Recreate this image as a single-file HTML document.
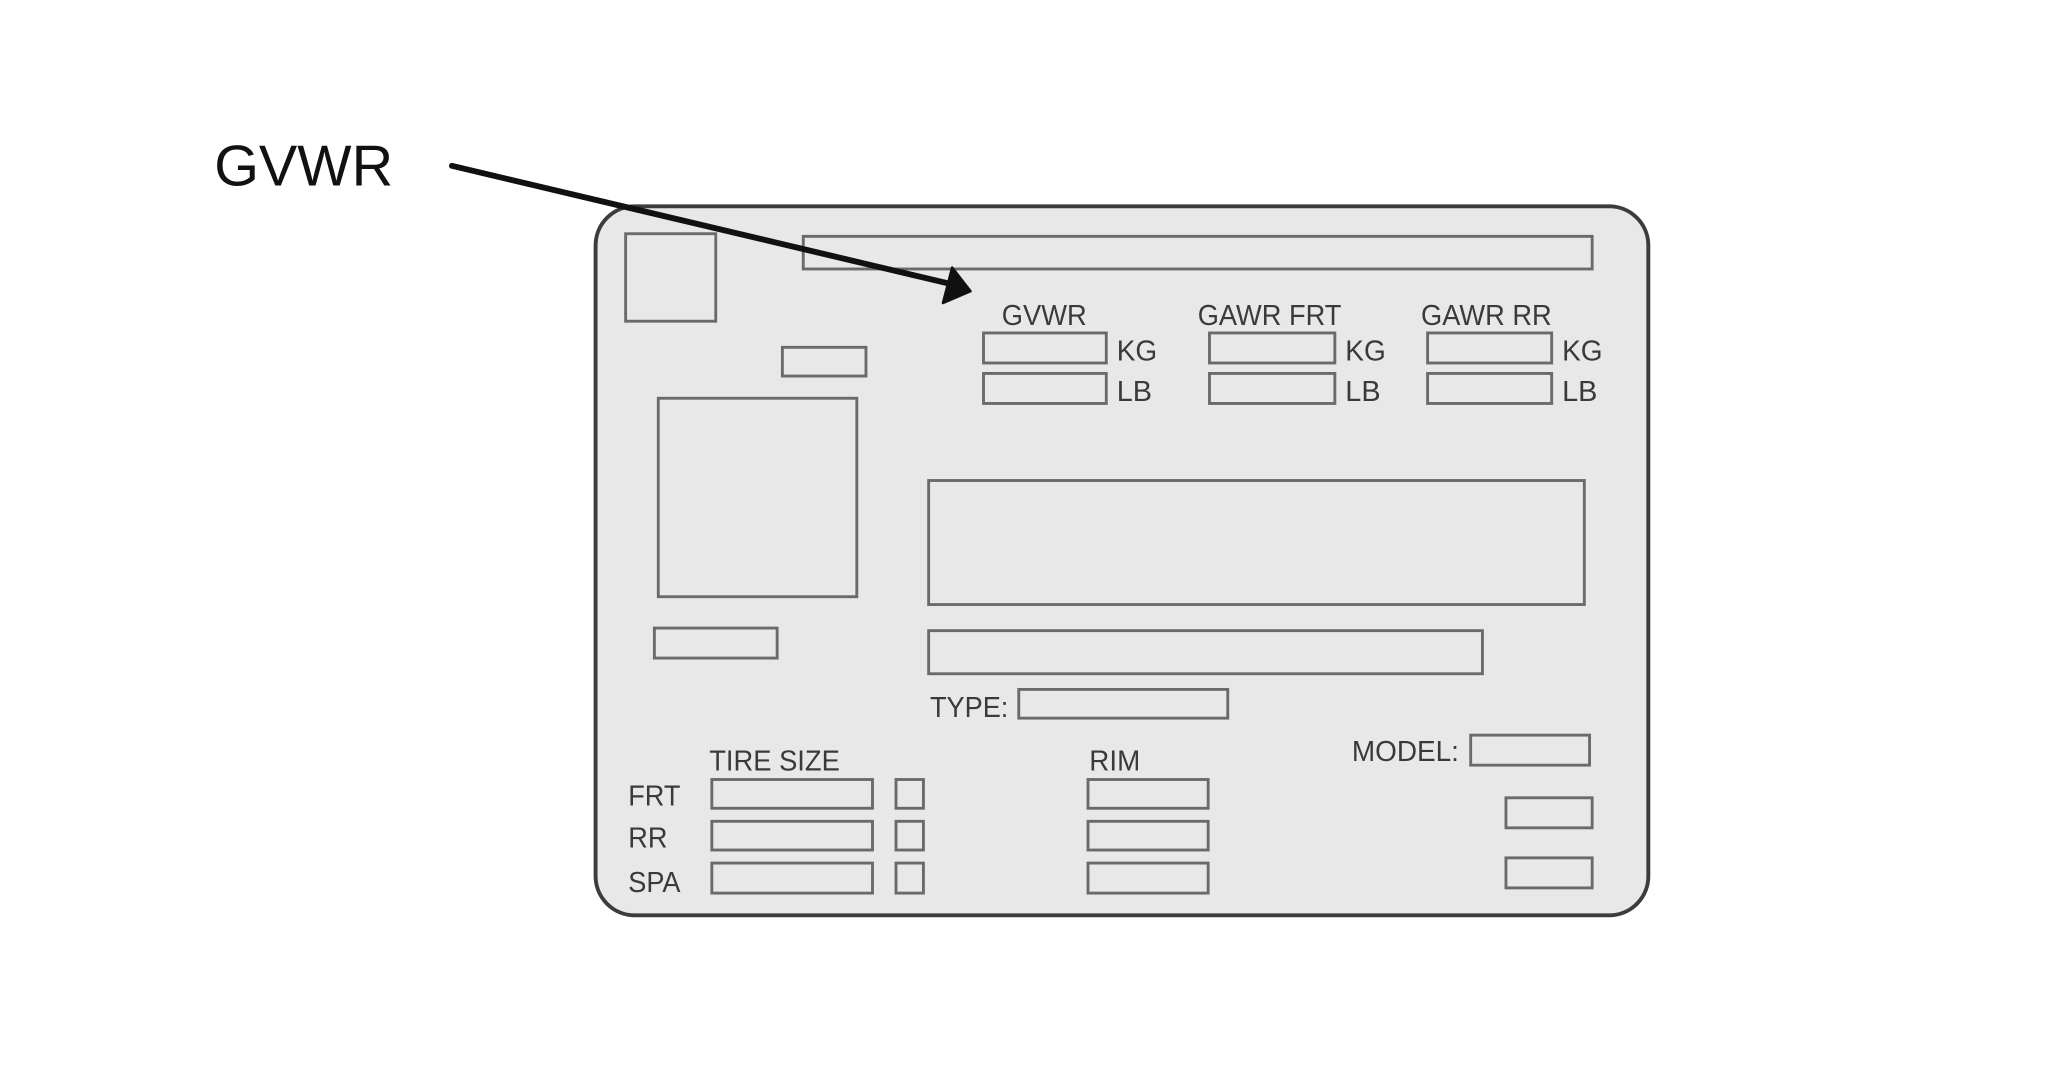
<!DOCTYPE html>
<html><head><meta charset="utf-8"><style>
html,body{margin:0;padding:0;background:#fff;width:2048px;height:1072px;overflow:hidden}
svg{display:block}
text{font-family:"Liberation Sans",sans-serif;fill:#3a3a3a}
.b{fill:none;stroke:#6a6a6a;stroke-width:2.2}
.s{font-size:22px}
</style></head><body>
<svg width="2048" height="1072" viewBox="0 0 1568 821" preserveAspectRatio="none">
<rect x="456" y="158" width="806" height="543" rx="30" ry="30" fill="#e8e8e8" stroke="#3c3c3c" stroke-width="3"/>
<rect class="b" x="479" y="179" width="69" height="67"/>
<rect class="b" x="615" y="181" width="604" height="25"/>
<rect class="b" x="599" y="266" width="64" height="22"/>
<rect class="b" x="504" y="305" width="152" height="152"/>
<rect class="b" x="501" y="481" width="94" height="23"/>
<text class="s" x="767" y="249" textLength="65" lengthAdjust="spacingAndGlyphs">GVWR</text>
<text class="s" x="917" y="249" textLength="110" lengthAdjust="spacingAndGlyphs">GAWR FRT</text>
<text class="s" x="1088" y="249" textLength="100" lengthAdjust="spacingAndGlyphs">GAWR RR</text>
<rect class="b" x="753" y="255" width="94" height="23"/><rect class="b" x="753" y="286" width="94" height="23"/>
<rect class="b" x="926" y="255" width="96" height="23"/><rect class="b" x="926" y="286" width="96" height="23"/>
<rect class="b" x="1093" y="255" width="95" height="23"/><rect class="b" x="1093" y="286" width="95" height="23"/>
<text class="s" x="855" y="276" textLength="31" lengthAdjust="spacingAndGlyphs">KG</text>
<text class="s" x="855" y="307" textLength="27" lengthAdjust="spacingAndGlyphs">LB</text>
<text class="s" x="1030" y="276" textLength="31" lengthAdjust="spacingAndGlyphs">KG</text>
<text class="s" x="1030" y="307" textLength="27" lengthAdjust="spacingAndGlyphs">LB</text>
<text class="s" x="1196" y="276" textLength="31" lengthAdjust="spacingAndGlyphs">KG</text>
<text class="s" x="1196" y="307" textLength="27" lengthAdjust="spacingAndGlyphs">LB</text>
<rect class="b" x="711" y="368" width="502" height="95"/>
<rect class="b" x="711" y="483" width="424" height="33"/>
<text class="s" x="712" y="549" textLength="60" lengthAdjust="spacingAndGlyphs">TYPE:</text>
<rect class="b" x="780" y="528" width="160" height="22"/>
<text class="s" x="1035" y="583" textLength="82" lengthAdjust="spacingAndGlyphs">MODEL:</text>
<rect class="b" x="1126" y="563" width="91" height="23"/>
<text class="s" x="543" y="590" textLength="100" lengthAdjust="spacingAndGlyphs">TIRE SIZE</text>
<text class="s" x="834" y="590" textLength="39" lengthAdjust="spacingAndGlyphs">RIM</text>
<text class="s" x="481" y="617" textLength="40" lengthAdjust="spacingAndGlyphs">FRT</text>
<text class="s" x="481" y="649" textLength="30" lengthAdjust="spacingAndGlyphs">RR</text>
<text class="s" x="481" y="683" textLength="40" lengthAdjust="spacingAndGlyphs">SPA</text>
<rect class="b" x="545" y="597" width="123" height="22"/>
<rect class="b" x="545" y="629" width="123" height="22"/>
<rect class="b" x="545" y="661" width="123" height="23"/>
<rect class="b" x="686" y="597" width="21" height="22"/>
<rect class="b" x="686" y="629" width="21" height="22"/>
<rect class="b" x="686" y="661" width="21" height="23"/>
<rect class="b" x="833" y="597" width="92" height="22"/>
<rect class="b" x="833" y="629" width="92" height="22"/>
<rect class="b" x="833" y="661" width="92" height="23"/>
<rect class="b" x="1153" y="611" width="66" height="23"/>
<rect class="b" x="1153" y="657" width="66" height="23"/>
<text x="164" y="142" style="font-size:44px;fill:#111" textLength="137" lengthAdjust="spacingAndGlyphs">GVWR</text>
<line x1="346" y1="127" x2="730" y2="218" stroke="#111" stroke-width="4.5" stroke-linecap="round"/>
<polygon points="743,223 729,205 722,232" fill="#111" stroke="#111" stroke-width="2" stroke-linejoin="round"/>
</svg>
</body></html>
